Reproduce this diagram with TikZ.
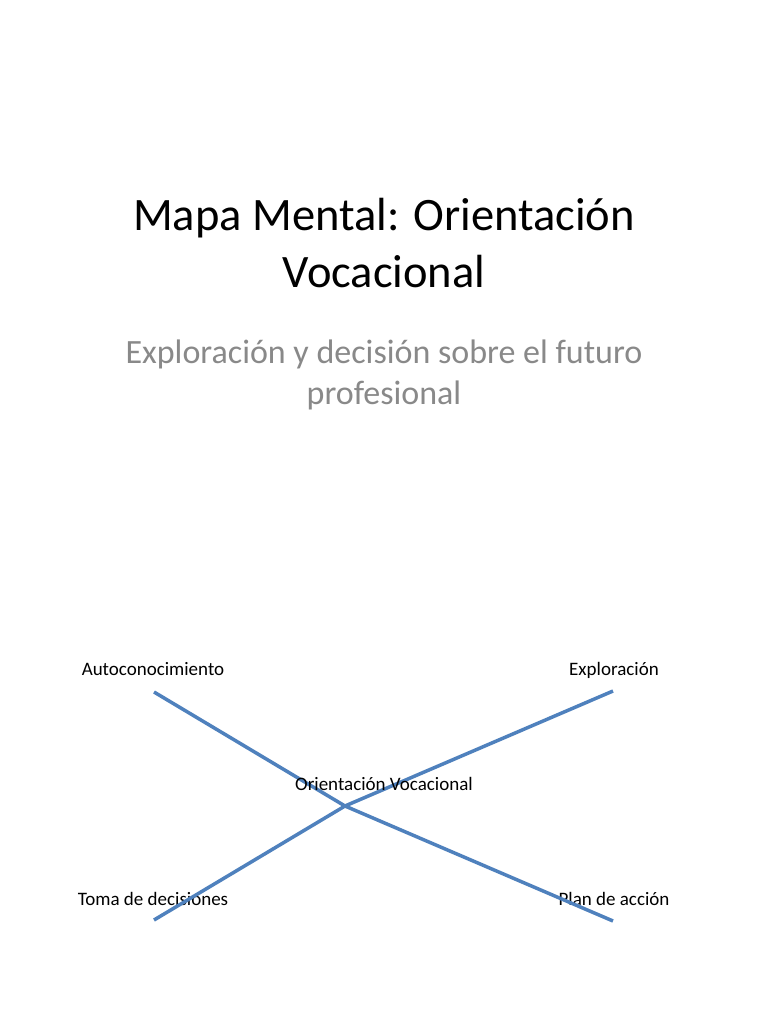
\documentclass[tikz,border=0pt]{standalone}
\usepackage{fontspec}
\setmainfont{Carlito}
\usetikzlibrary{positioning}

\definecolor{linkblue}{HTML}{4F81BD}
\definecolor{subgray}{HTML}{898989}

\begin{document}
\begin{tikzpicture}[x=1pt,y=-1pt,
  branch/.style={font=\fontsize{19}{22}\selectfont,text=black,inner sep=0pt,anchor=base},
  link/.style={draw=linkblue,line width=3.5pt}]
\useasboundingbox[fill=white] (0,0) rectangle (768,1024);

% title and subtitle
\node[font=\fontsize{46.5}{57}\selectfont,text=black,align=center,inner sep=0pt,anchor=base] (title) at (384,287) {Mapa Mental: Orientación\\Vocacional};
\node[font=\fontsize{34}{41}\selectfont,text=subgray,align=center,inner sep=0pt,anchor=base] (subtitle) at (384,404) {Exploración y decisión sobre el futuro\\profesional};

% mind map
\coordinate (hub) at (345,806);
\coordinate (ul) at (154,692);
\coordinate (ur) at (613,691);
\coordinate (ll) at (154,920);
\coordinate (lr) at (613,921);

\node[branch] (auto) at (153,675) {Autoconocimiento};
\node[branch] (expl) at (614,675) {Exploración};
\node[branch] (toma) at (153,905) {Toma de decisiones};
\node[branch] (plan) at (614,905) {Plan de acción};

\draw[link] (hub) -- (ul);
\draw[link] (hub) -- (ur);
\draw[link] (hub) -- (ll);
\draw[link] (hub) -- (lr);

\node[branch] (centro) at (384,790) {Orientación Vocacional};

\end{tikzpicture}
\end{document}
